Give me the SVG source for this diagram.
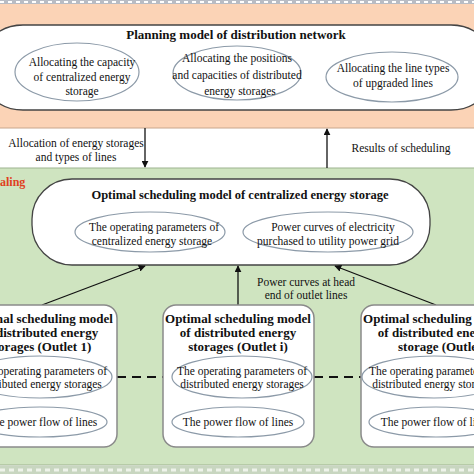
<svg xmlns="http://www.w3.org/2000/svg" width="474" height="474" viewBox="0 0 474 474">
<defs>
<marker id="ah" viewBox="0 0 10 10" refX="9" refY="5" markerWidth="7" markerHeight="7" orient="auto" markerUnits="userSpaceOnUse"><path d="M0,0 L10,5 L0,10 z" fill="#111"/></marker>
<style>
.t{font-family:"Liberation Serif","Times New Roman",serif;fill:#111}
.b{font-weight:bold;font-size:13px}
.s{font-size:11.5px}
.el{fill:#fff;stroke:#8c9aa8;stroke-width:1.2}
.box{fill:#fff;stroke:#8a8a8a;stroke-width:1.5}
.cap{fill:#fff;stroke:#444;stroke-width:1.3}
.con{stroke:#111;stroke-width:1.3;fill:none}
.dash{stroke:#111;stroke-width:2;stroke-dasharray:9,6;fill:none}
</style>
</defs>
<rect width="474" height="474" fill="#fff"/>
<!-- top dashed border -->
<rect x="0" y="0" width="474" height="4" fill="#b8bcc4"/>
<line x1="0" y1="2" x2="474" y2="2" stroke="#fff" stroke-width="2" stroke-dasharray="4,4"/>
<!-- peach band -->
<rect x="0" y="4" width="474" height="124" fill="#fbd3b6"/>
<line x1="0" y1="128" x2="474" y2="128" stroke="#c8a68c" stroke-width="1"/>
<!-- green band -->
<rect x="0" y="168" width="474" height="297" fill="#cfe4c0"/>
<line x1="0" y1="168" x2="474" y2="168" stroke="#9db38f" stroke-width="1"/>
<line x1="0" y1="465" x2="474" y2="465" stroke="#9db38f" stroke-width="1"/>
<rect x="0" y="466" width="474" height="8" fill="#c8d6c0"/>
<line x1="0" y1="470" x2="474" y2="470" stroke="#eef3ea" stroke-width="3" stroke-dasharray="5,4"/>
<text class="t" x="0" y="186" style="font-size:12px;font-weight:bold;fill:#e0401e">aling</text>

<g id="planning">
<rect class="cap" x="-15" y="25" width="504" height="85" rx="38" ry="30"/>
<text class="t b" x="236" y="39" text-anchor="middle">Planning model  of  distribution network</text>
</g>
<g id="alloc-central">
<ellipse class="el" cx="77" cy="72" rx="62" ry="29"/>
<text class="t s" x="82" y="66" text-anchor="middle">Allocating the capacity</text>
<text class="t s" x="82" y="81" text-anchor="middle">of centralized energy</text>
<text class="t s" x="82" y="95" text-anchor="middle">storage</text>
</g>
<g id="alloc-dist">
<ellipse class="el" cx="237" cy="73" rx="64" ry="27"/>
<text class="t s" x="237" y="62" text-anchor="middle">Allocating  the  positions</text>
<text class="t s" x="237" y="79" text-anchor="middle">and capacities of  distributed</text>
<text class="t s" x="240" y="95" text-anchor="middle">energy storages</text>
</g>
<g id="alloc-lines">
<ellipse class="el" cx="392" cy="77" rx="66" ry="25"/>
<text class="t s" x="393" y="72" text-anchor="middle">Allocating the line types</text>
<text class="t s" x="393" y="87" text-anchor="middle">of  upgraded  lines</text>
</g>

<g id="band-labels">
<text class="t s" x="76" y="147" text-anchor="middle">Allocation of  energy  storages</text>
<text class="t s" x="76" y="161" text-anchor="middle">and types  of   lines</text>
<text class="t s" x="401" y="152" text-anchor="middle">Results of scheduling</text>
</g>

<g id="central">
<rect class="cap" x="32" y="179" width="398" height="86" rx="40" ry="40"/>
<text class="t b" x="240" y="199" text-anchor="middle" style="font-size:12.5px">Optimal scheduling model  of  centralized energy storage</text>
</g>
<g id="central-params">
<ellipse class="el" cx="150" cy="232" rx="75" ry="20"/>
<text class="t s" x="154" y="231" text-anchor="middle">The  operating  parameters of</text>
<text class="t s" x="152" y="245" text-anchor="middle">centralized energy storage</text>
</g>
<g id="central-power">
<ellipse class="el" cx="328" cy="232" rx="85" ry="20"/>
<text class="t s" x="333" y="231" text-anchor="middle">Power curves  of    electricity</text>
<text class="t s" x="328" y="245" text-anchor="middle">purchased to utility power grid</text>
</g>
<text class="t s" x="306" y="286" text-anchor="middle">Power curves at head</text>
<text class="t s" x="306" y="299" text-anchor="middle">end of outlet lines</text>

<g id="connectors">
<line class="con" x1="145" y1="128" x2="145" y2="167" marker-end="url(#ah)"/>
<line class="con" x1="327" y1="168" x2="327" y2="129" marker-end="url(#ah)"/>
<line class="con" x1="42" y1="305" x2="145" y2="266" marker-end="url(#ah)"/>
<line class="con" x1="238" y1="305" x2="238" y2="266" marker-end="url(#ah)"/>
<line class="con" x1="436" y1="305" x2="335" y2="266" marker-end="url(#ah)"/>
<line class="dash" x1="117" y1="377" x2="163" y2="377"/>
<line class="dash" x1="314" y1="377" x2="361" y2="377"/>
</g>

<g id="outlet1">
<rect class="box" x="-35" y="305" width="152" height="142" rx="13"/>
<text class="t b" x="40" y="323" text-anchor="middle">Optimal scheduling model</text>
<text class="t b" x="40" y="337" text-anchor="middle">of  distributed energy</text>
<text class="t b" x="40" y="351" text-anchor="middle">storages (Outlet 1)</text>
<ellipse class="el" cx="40" cy="377" rx="72" ry="21"/>
<text class="t s" x="42" y="375" text-anchor="middle">The operating parameters of</text>
<text class="t s" x="40" y="388" text-anchor="middle">distributed energy storages</text>
<ellipse class="el" cx="40" cy="422" rx="67" ry="15"/>
<text class="t s" x="42" y="426" text-anchor="middle">The power flow of  lines</text>
</g>
<g id="outleti">
<rect class="box" x="163" y="305" width="151" height="142" rx="13"/>
<text class="t b" x="238" y="323" text-anchor="middle">Optimal scheduling model</text>
<text class="t b" x="238" y="337" text-anchor="middle">of  distributed  energy</text>
<text class="t b" x="238" y="351" text-anchor="middle">storages  (Outlet i)</text>
<ellipse class="el" cx="242" cy="377" rx="70" ry="21"/>
<text class="t s" x="242" y="375" text-anchor="middle">The operating parameters of</text>
<text class="t s" x="242" y="388" text-anchor="middle">distributed energy storages</text>
<ellipse class="el" cx="238" cy="422" rx="66" ry="15"/>
<text class="t s" x="238" y="426" text-anchor="middle">The power flow of  lines</text>
</g>
<g id="outletn">
<rect class="box" x="361" y="305" width="152" height="142" rx="13"/>
<text class="t b" x="436" y="323" text-anchor="middle">Optimal scheduling model</text>
<text class="t b" x="436" y="337" text-anchor="middle">of  distributed  energy</text>
<text class="t b" x="398" y="351">storage  (Outlet</text>
<ellipse class="el" cx="434" cy="377" rx="72" ry="21"/>
<text class="t s" x="434" y="375" text-anchor="middle">The  operating parameters of</text>
<text class="t s" x="434" y="388" text-anchor="middle">distributed energy storages</text>
<ellipse class="el" cx="436" cy="422" rx="67" ry="15"/>
<text class="t s" x="436" y="426" text-anchor="middle">The power flow of lines</text>
</g>
</svg>
